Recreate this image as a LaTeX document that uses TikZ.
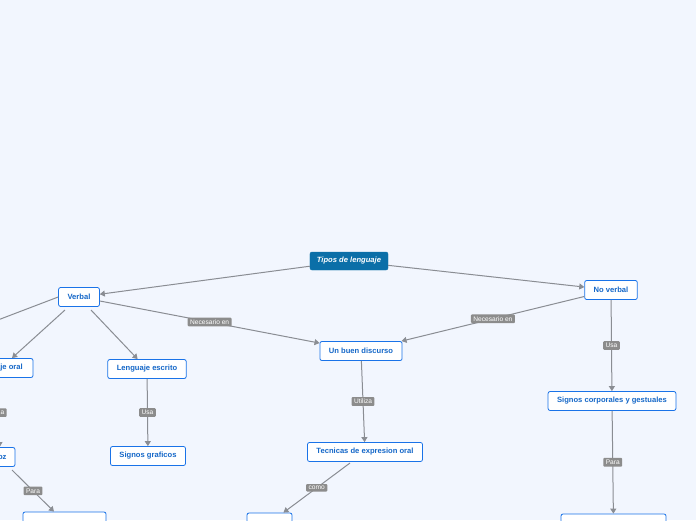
\documentclass[tikz,border=0pt]{standalone}
\usepackage{fontspec}
\setmainfont{Liberation Sans}
\usetikzlibrary{arrows.meta}
\definecolor{bg}{HTML}{F2F6FE}
\definecolor{bl}{HTML}{1A73E8}
\definecolor{tx}{HTML}{1467C8}
\definecolor{ln}{HTML}{8A8D93}
\definecolor{lb}{HTML}{8C8C8C}
\definecolor{rt}{HTML}{0B6FA8}
\begin{document}
\begin{tikzpicture}[x=1pt,y=-1pt,
  box/.style={draw=bl,line width=0.8pt,rounded corners=2pt,fill=white,text=tx,font=\fontsize{7.6}{8}\selectfont\bfseries,minimum height=19pt,inner xsep=9pt},
  root/.style={draw=rt,fill=rt,rounded corners=2pt,text=white,font=\fontsize{7.6}{8}\selectfont\bfseries\itshape,minimum height=18pt,inner xsep=7pt},
  lab/.style={fill=lb,text=white,font=\fontsize{6.6}{7}\selectfont,inner xsep=2.5pt,inner ysep=2pt,rounded corners=1pt},
  con/.style={draw=ln,line width=1pt,-{Triangle[length=5pt,width=6pt]}}]
\fill[bg] (0,0) rectangle (696,520);
\useasboundingbox (0,0) rectangle (696,520);
\clip (0,0) rectangle (696,520);
\node[root] (r) at (349,261) {Tipos de lenguaje};
\node[box] (v) at (79,297) {Verbal};
\node[box,minimum width=70pt,inner xsep=2pt] (lo) at (-2,368) {Lenguaje oral};
\node[box] (le) at (147,369) {Lenguaje escrito};
\node[box] (sg) at (148,456) {Signos graficos};
\node[box,minimum width=30pt,inner xsep=2pt] (vz) at (0,457) {Voz};
\node[box,minimum width=83pt,minimum height=20pt] (b1) at (64.5,522) {};
\node[box] (ud) at (361,351) {Un buen discurso};
\node[box] (nv) at (611,290) {No verbal};
\node[box] (sc) at (612,401) {Signos corporales y gestuales};
\node[box] (te) at (365,452) {Tecnicas de expresion oral};
\node[box,minimum width=45pt,minimum height=20pt] (b2) at (269.5,523) {};
\node[box,minimum width=105pt,minimum height=20pt] (b3) at (613.5,524) {};
\coordinate (off) at (-10,323);
\draw[con] (r) -- (v);
\draw[con] (r) -- (nv);
\draw[ln,line width=1pt] (v.west) -- (off);
\draw[con] (65,310) -- (12,358);
\draw[con] (91,310) -- (le);
\draw[con] (le) -- node[lab]{Usa} (sg);
\draw[con] (v) -- node[lab,pos=0.5]{Necesario en} (ud);
\draw[con] (nv) -- node[lab,pos=0.5]{Necesario en} (ud);
\draw[con] (nv) -- node[lab]{Usa} (sc);
\draw[con] (sc) -- node[lab]{Para} (b3);
\draw[con] (ud) -- node[lab]{Utiliza} (te);
\draw[con] (350,463) -- node[lab]{como} (b2);
\draw[con] (-3,378) -- node[lab,pos=0.5]{Usa} (vz);
\draw[con] (12,470) -- node[lab]{Para} (b1);
\end{tikzpicture}
\end{document}
